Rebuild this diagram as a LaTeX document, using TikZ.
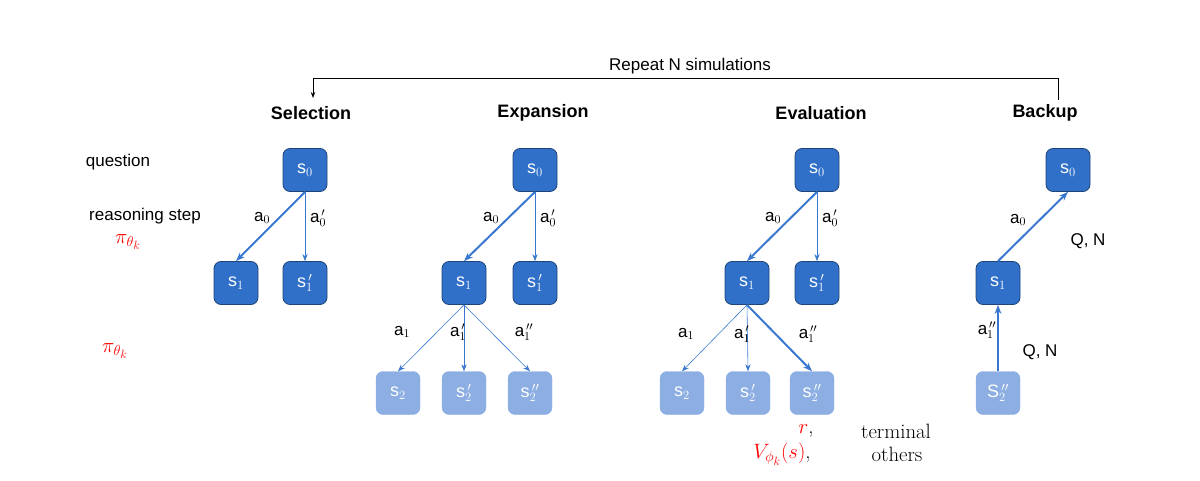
\documentclass[tikz,border=0pt]{standalone}
\usepackage{fix-cm}
\usepackage{fontspec}
\setsansfont{Liberation Sans}
\usetikzlibrary{arrows.meta}
\definecolor{nb}{HTML}{3070C8}
\definecolor{nbd}{HTML}{1F4578}
\definecolor{lb}{HTML}{8CAEE2}
\definecolor{eb}{HTML}{3A78D0}
\begin{document}
\begin{tikzpicture}[x=1pt,y=-1pt,font=\sffamily\fontsize{17}{20}\selectfont,
 st/.style={draw=nbd,fill=nb,rounded corners=7pt,minimum width=44pt,minimum height=43pt,text=white,font=\sffamily\fontsize{18}{20}\selectfont,line width=0.8pt},
 lt/.style={draw=lb,fill=lb,rounded corners=7pt,minimum width=44pt,minimum height=43pt,text=white,font=\sffamily\fontsize{18}{20}\selectfont},
 thn/.style={draw=eb,line width=0.6pt,-{Stealth[length=7pt]}},
 thk/.style={draw=eb,line width=2pt,-{Stealth[length=9pt]}},
 el/.style={font=\sffamily\fontsize{17}{20}\selectfont},
 ttl/.style={font=\sffamily\bfseries\fontsize{18}{20}\selectfont},
 mt/.style={font=\huge}]
\useasboundingbox (0,0) rectangle (1200,481);
\node[ttl] (t1) at (311,113) {Selection};
\node[ttl] (t2) at (543,113) {Expansion};
\node[ttl] (t3) at (821,113) {Evaluation};
\node[ttl] (t4) at (1045,113) {Backup};
\node[el] (rep) at (690,66) {Repeat N simulations};
\coordinate (ra) at (1058,100); \coordinate (rb) at (1058,78);
\coordinate (rc) at (313,78); \coordinate (rd) at (313,98);
\draw[line width=0.8pt,-{Stealth[length=6pt]}] (ra)--(rb)--(rc)--(rd);
\node[el] (q) at (118,162) {question};
\node[el] (rs) at (145,216) {reasoning step};
\node[text=red,mt] (p1) at (128,242) {$\pi_{\theta_k}$};
\node[text=red,mt] (p2) at (115,351) {$\pi_{\theta_k}$};
% Selection
\node[st] (a0) at (305,170) {s$_0$};
\node[st] (a1) at (236,283) {s$_1$};
\node[st] (a1p) at (305,283) {s$_1^{\,\prime}$};
\draw[thk] (a0.south)--(a1.north);
\draw[thn] (a0.south)--(a1p.north);
\node[el] at (262,218) {a$_0$};
\node[el] at (318,218) {a$_0^{\,\prime}$};
% Expansion
\node[st] (b0) at (535,170) {s$_0$};
\node[st] (b1) at (464,283) {s$_1$};
\node[st] (b1p) at (535,283) {s$_1^{\,\prime}$};
\node[lt] (b2) at (398,393) {s$_2$};
\node[lt] (b2p) at (464,393) {s$_2^{\,\prime}$};
\node[lt] (b2pp) at (530,393) {s$_2^{\,\prime\prime}$};
\draw[thk] (b0.south)--(b1.north);
\draw[thn] (b0.south)--(b1p.north);
\draw[thn] (b1.south)--(b2.north);
\draw[thn] (b1.south)--(b2p.north);
\draw[thn] (b1.south)--(b2pp.north);
\node[el] at (491,218) {a$_0$};
\node[el] at (548,218) {a$_0^{\,\prime}$};
\node[el] at (402,332) {a$_1$};
\node[el] at (458,332) {a$_1^{\,\prime}$};
\node[el] at (524,332) {a$_1^{\,\prime\prime}$};
% Evaluation
\node[st] (c0) at (817,170) {s$_0$};
\node[st] (c1) at (747,283) {s$_1$};
\node[st] (c1p) at (817,283) {s$_1^{\,\prime}$};
\node[lt] (c2) at (682,393) {s$_2$};
\node[lt] (c2p) at (748,393) {s$_2^{\,\prime}$};
\node[lt] (c2pp) at (812,393) {s$_2^{\,\prime\prime}$};
\draw[thk] (c0.south)--(c1.north);
\draw[thn] (c0.south)--(c1p.north);
\draw[thn] (c1.south)--(c2.north);
\draw[thn] (c1.south)--(c2p.north);
\draw[thk] (c1.south)--(c2pp.north);
\node[el] at (773,218) {a$_0$};
\node[el] at (830,218) {a$_0^{\,\prime}$};
\node[el] at (686,334) {a$_1$};
\node[el] at (742,334) {a$_1^{\,\prime}$};
\node[el] at (808,334) {a$_1^{\,\prime\prime}$};
\node[mt] (r) at (806,431) {$\color{red}r$,};
\node[mt] (v) at (782,454) {$\color{red}V_{\phi_k}(s)$,};
\node[mt] (term) at (896,431) {terminal};
\node[mt] (oth) at (897,454) {others};
% Backup
\node[st] (d0) at (1068,170) {s$_0$};
\node[st] (d1) at (998,283) {s$_1$};
\node[lt] (d2) at (998,393) {S$_2^{\,\prime\prime}$};
\draw[thk] (d2.north)--(d1.south);
\draw[thk] (d1.north)--(d0.south);
\node[el] at (1018,220) {a$_0$};
\node[el] at (1088,241) {Q, N};
\node[el] at (987,330) {a$_1^{\,\prime\prime}$};
\node[el] at (1040,352) {Q, N};
\end{tikzpicture}
\end{document}
